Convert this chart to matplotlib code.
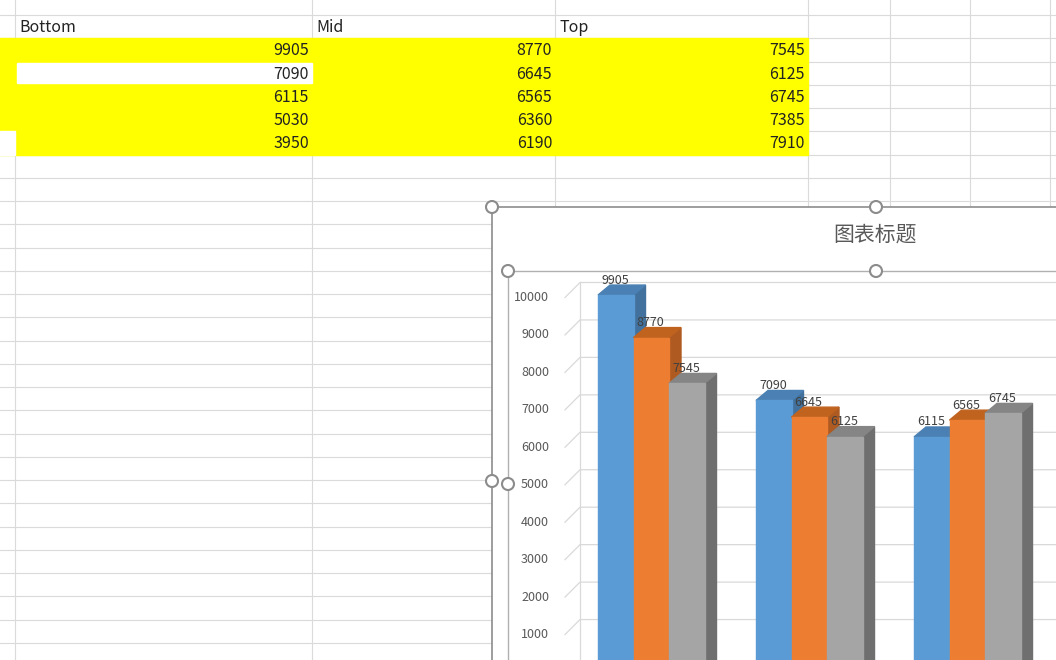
import matplotlib
matplotlib.use("Agg")
import matplotlib.pyplot as plt
from matplotlib.patches import Polygon, Rectangle, Circle

plt.rcParams["font.family"] = ["Noto Sans CJK SC", "DejaVu Sans"]

series = ["Bottom", "Mid", "Top"]
bottom = [9905, 7090, 6115, 5030, 3950]
mid = [8770, 6645, 6565, 6360, 6190]
top = [7545, 6125, 6745, 7385, 7910]
yticks = [1000, 2000, 3000, 4000, 5000, 6000, 7000, 8000, 9000, 10000]

FRONT = ["#5B9BD5", "#ED7D31", "#A5A5A5"]
SIDE = ["#41719C", "#AE5A21", "#6F6F6F"]
TOPC = ["#4A80B3", "#C0631F", "#858585"]

fig = plt.figure(figsize=(10.56, 6.6), dpi=100)
ax = fig.add_axes([0, 0, 1, 1])
ax.set_xlim(0, 1056)
ax.set_ylim(660, 0)
ax.axis("off")

# spreadsheet grid
cols = [15, 312, 555, 808, 890, 970, 1050]
row_h = 23.25
rows = [15 + row_h * i for i in range(28)]
for y in rows:
    ax.plot([0, 1056], [y, y], color="#dadada", lw=0.8, zorder=0)
for x in cols:
    ax.plot([x, x], [0, 660], color="#dadada", lw=0.8, zorder=0)

# yellow data block
ax.add_patch(Rectangle((0, rows[1]), 808, row_h * 5, color="#FFFF00", zorder=1))
ax.add_patch(Rectangle((0, rows[5]), 15, row_h, color="white", zorder=1))
ax.add_patch(Rectangle((17, rows[2] + 1.5), 295, row_h - 3, color="white", zorder=1))

for j, name in enumerate(series):
    ax.text(cols[j] + 4, rows[0] + row_h / 2 + 1, name, fontsize=11.5,
            va="center", ha="left", color="#222", zorder=2)
for i, vals in enumerate(zip(bottom, mid, top)):
    for j, v in enumerate(vals):
        ax.text(cols[j + 1] - 3, rows[i + 1] + row_h / 2 + 1, str(v),
                fontsize=11.5, va="center", ha="right", color="#222", zorder=2)

# chart area
ax.add_patch(Rectangle((492, 207), 600, 500, facecolor="white",
                       edgecolor="#8c8c8c", lw=1.2, zorder=3))
ax.plot([508, 1056], [271, 271], color="#b0b0b0", lw=1, zorder=4)
ax.plot([508, 508], [271, 660], color="#b0b0b0", lw=1, zorder=4)
ax.text(875, 235, "图表标题", fontsize=15, ha="center", va="center",
        color="#595959", zorder=5)

base = 672.0
scale = 37.45 / 1000
dx, dy = 15, 15

def vy(v):
    return base - v * scale

# 3D gridlines
for t in yticks:
    y = vy(t)
    ax.plot([565, 565 + dx, 1056], [y, y - dy, y - dy], color="#d9d9d9",
            lw=0.9, zorder=4)
    ax.text(549, y, str(t), fontsize=9, ha="right", va="center",
            color="#595959", zorder=5)
ax.plot([565 + dx, 565 + dx], [vy(10000) - dy, 660], color="#d9d9d9", lw=0.9, zorder=4)

# bars
w = 35.5
bdx, bdy = 12, 10
bar_off = 6
data = [bottom, mid, top]
for g in range(3):
    x0g = 598 + 158 * g
    for s in range(3):
        v = data[s][g]
        x0 = x0g + w * s
        yt = vy(v) - bar_off
        ax.add_patch(Polygon([(x0 + w, yt), (x0 + w + bdx, yt - bdy),
                              (x0 + w + bdx, 700), (x0 + w, 700)],
                             closed=True, color=SIDE[s], zorder=6))
        ax.add_patch(Polygon([(x0, yt), (x0 + bdx, yt - bdy),
                              (x0 + w + bdx, yt - bdy), (x0 + w, yt)],
                             closed=True, color=TOPC[s], zorder=6))
        ax.add_patch(Rectangle((x0, yt), w, 700 - yt, color=FRONT[s], zorder=6))
        ax.text(x0 + 3, yt - 15, str(v), fontsize=9, ha="left", va="center",
                color="#404040", zorder=8)

# selection handles
for cx, cy in [(492, 207), (876, 207), (508, 271), (876, 271), (492, 481), (508, 484)]:
    ax.add_patch(Circle((cx, cy), 6, facecolor="white", edgecolor="#8c8c8c",
                        lw=1.5, zorder=9))

fig.savefig("out.png", dpi=100)
